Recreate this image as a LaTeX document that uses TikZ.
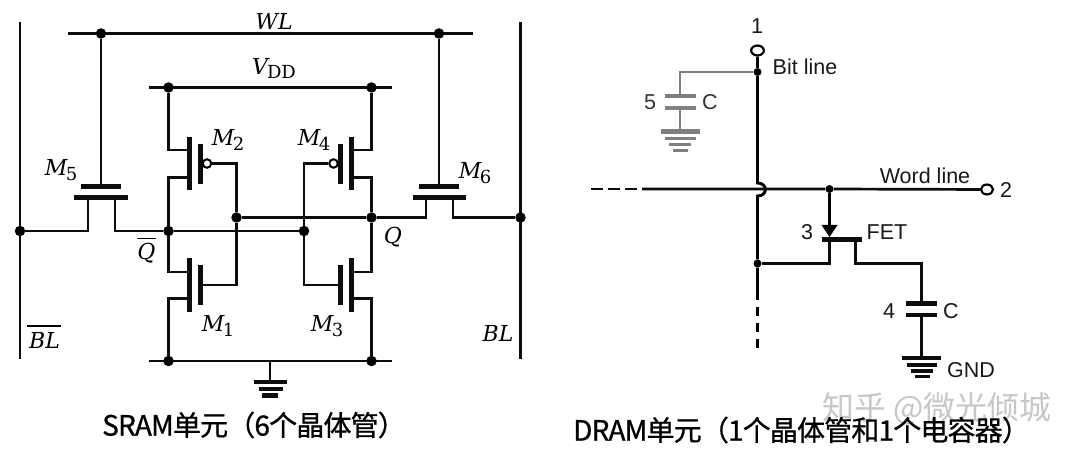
\documentclass[tikz,border=0pt]{standalone}
\usepackage{fontspec}
\usetikzlibrary{shapes.geometric}
\setmainfont{Liberation Sans}
\newfontfamily\serifit[ItalicFont=DejaVu Serif Italic]{DejaVu Serif}
\newfontfamily\cjk{Noto Sans CJK SC}
\newcommand{\lab}[1]{{\serifit\itshape #1}}
\newcommand{\rmsub}[1]{\kern-1pt\raisebox{-4pt}{\fontsize{18}{18}\selectfont\serifit #1}}
\newcommand{\itsub}[1]{\kern-1.5pt\raisebox{-5pt}{\fontsize{18}{18}\selectfont\serifit #1}}
\begin{document}
\begin{tikzpicture}[x=1pt,y=-1pt,
  wire/.style={line width=2.7pt,black!95},
  plate/.style={line width=5.4pt,black!95},
  thinplate/.style={line width=4.2pt,black!95},
  dot/.style={circle,fill=black,inner sep=0pt,minimum size=10.5pt},
  smalldot/.style={circle,fill=black,inner sep=0pt,minimum size=8pt},
  bub/.style={circle,draw=black,line width=2pt,fill=white,inner sep=0pt,minimum size=8.5pt},
  mlab/.style={font=\fontsize{22}{22}\selectfont,inner sep=0pt},
  sans/.style={font=\fontsize{21.5}{21.5}\selectfont,inner sep=0pt,text=black!90},
  grayw/.style={line width=2.6pt,black!50},
  grayp/.style={line width=4.5pt,black!50},
  captxt/.style={font=\cjk\fontsize{28}{28}\selectfont,inner sep=0pt}]
\useasboundingbox (0,0) rectangle (1080,454);
\fill[white] (0,0) rectangle (1080,454);
%% SRAM rails
\coordinate (bla) at (20,22); \coordinate (blb) at (20,359);
\coordinate (bra) at (520.5,22); \coordinate (brb) at (520.5,359);
\coordinate (wla) at (68,33.5); \coordinate (wlb) at (473,33.5);
\coordinate (vda) at (149,87.5); \coordinate (vdb) at (392,87.5);
\coordinate (gna) at (149,361); \coordinate (gnb) at (392,361);
\draw[wire] (bla)--(blb); \draw[wire] (bra)--(brb);
\draw[wire] (wla)--(wlb); \draw[wire] (vda)--(vdb); \draw[wire] (gna)--(gnb);
%% junctions
\node[dot] (jw1) at (101,33.5) {};
\node[dot] (jw2) at (439,33.5) {};
\node[dot] (jv1) at (168.5,87.5) {};
\node[dot] (jv2) at (371.5,87.5) {};
\node[dot] (jg1) at (168.5,361) {};
\node[dot] (jg2) at (371.5,361) {};
\node[dot] (jbl) at (20,231) {};
\node[dot] (jbr) at (520.5,217.5) {};
\node[dot] (jqb) at (168.5,231) {};
\node[dot] (jqc) at (304,231) {};
\node[dot] (jq) at (371.5,217.5) {};
\node[dot] (jqd) at (236.5,217.5) {};
%% access transistors
\coordinate (g5) at (101,186); \coordinate (g6) at (439,186);
\draw[wire] (jw1)--(g5); \draw[wire] (jw2)--(g6);
\draw[plate] (81,186.5)--(121,186.5); \draw[plate] (74,197.5)--(128,197.5);
\draw[plate] (419,186.5)--(459,186.5); \draw[plate] (413,197.5)--(466,197.5);
\draw[wire] (jbl) -| (88,197.5);
\draw[wire] (115,197.5) |- (jqb);
\draw[wire] (jqb)--(jqc);
\draw[wire] (jqd)--(jq);
\draw[wire] (jq) -| (426,197.5);
\draw[wire] (453,197.5) |- (jbr);
%% verticals
\draw[wire] (jv1) -- (168.5,150) -- (189.5,150);
\draw[wire] (189.5,177.5) -- (168.5,177.5) -- (jqb);
\draw[wire] (jqb) -- (168.5,272) -- (189.5,272);
\draw[wire] (189.5,298.5) -- (168.5,298.5) -- (jg1);
\draw[wire] (jv2) -- (371.5,150) -- (351.5,150);
\draw[wire] (351.5,177.5) -- (371.5,177.5) -- (jq);
\draw[wire] (jq) -- (371.5,272) -- (351.5,272);
\draw[wire] (351.5,298.5) -- (371.5,298.5) -- (jg2);
%% channels and gates
\draw[plate] (189.5,137)--(189.5,190); \draw[plate] (200.5,144)--(200.5,184);
\draw[plate] (189.5,258.5)--(189.5,312); \draw[plate] (200.5,265)--(200.5,305);
\draw[plate] (351.5,137)--(351.5,190); \draw[plate] (340.5,144)--(340.5,184);
\draw[plate] (351.5,258.5)--(351.5,312); \draw[plate] (340.5,265)--(340.5,305);
\node[bub] (b2) at (207,163.5) {};
\node[bub] (b4) at (333.5,163.5) {};
\draw[wire] (b2) -- (236.5,163.5) -- (jqd) -- (236.5,285) -- (200.5,285);
\draw[wire] (b4) -- (304,163.5) -- (jqc) -- (304,285) -- (340.5,285);
%% ground
\coordinate (gs) at (270,382);
\draw[wire] (270,361)--(gs);
\draw[thinplate] (254,382)--(287,382);
\draw[thinplate] (259,389)--(283,389);
\draw[thinplate] (262,395.5)--(278,395.5);
%% SRAM labels
\node[mlab] (tWL) at (274,21) {\lab{WL}};
\node[mlab] (tVDD) at (274,68) {\lab{V}\rmsub{DD}};
\node[mlab] (tM5) at (61,170) {\lab{M}\itsub{5}};
\node[mlab] (tM2) at (228,140) {\lab{M}\itsub{2}};
\node[mlab] (tM4) at (314,140) {\lab{M}\itsub{4}};
\node[mlab] (tM6) at (475,173) {\lab{M}\itsub{6}};
\node[mlab] (tM1) at (218,326) {\lab{M}\itsub{1}};
\node[mlab] (tM3) at (327,326) {\lab{M}\itsub{3}};
\node[mlab] (tQb) at (146.5,253) {\lab{Q}};
\draw[line width=1.9pt] (137,238.5) -- (156,238.5);
\node[mlab] (tQ) at (393,237) {\lab{Q}};
\node[mlab] (tBLb) at (44.5,340) {\lab{BL}};
\draw[line width=1.9pt] (27,326) -- (61,326);
\node[mlab] (tBL) at (498,333) {\lab{BL}};
%% DRAM
\node[draw=black,line width=2.2pt,ellipse,inner sep=0pt] (c1) at (757.5,50.5) {\phantom{\rule{9pt}{7pt}}};
\node[smalldot] (j1) at (757.5,72) {};
\node[smalldot] (j2) at (829.5,189) {};
\node[smalldot] (j3) at (757.5,263.5) {};
\node[draw=black,line width=2.2pt,ellipse,inner sep=0pt] (c2) at (987,189.5) {\phantom{\rule{8.5pt}{7pt}}};
\coordinate (hopa) at (757.5,183); \coordinate (hopb) at (757.5,196);
\coordinate (ba) at (757.5,300); \coordinate (bc) at (757.5,307); \coordinate (bb) at (757.5,348);
\draw[line width=2.9pt] (c1)--(j1)--(hopa) .. controls (768,183) and (768,196) .. (hopb) -- (j3) -- (ba);
\draw[line width=2.9pt,dash pattern=on 9pt off 7pt] (bc)--(bb);
\coordinate (wa) at (591,189); \coordinate (wc) at (637,189); \coordinate (wd) at (642,189);
\draw[wire,dash pattern=on 12pt off 5pt] (wa)--(wc);
\draw[wire] (wd)--(j2)--(c2);
%% gray capacitor
\coordinate (gc1) at (680,96); \coordinate (gc2) at (680,108); \coordinate (gc3) at (680,132);
\draw[grayw] (j1) -| (gc1);
\draw[grayw] (gc2)--(gc3);
\draw[grayp] (665,96)--(696,96); \draw[grayp] (665,108)--(696,108);
\draw[grayp] (660.5,131.5)--(700,131.5);
\draw[grayp,line width=3.5pt] (665,138.5)--(696,138.5);
\draw[grayp,line width=3.5pt] (669,144.5)--(691,144.5);
\draw[grayp,line width=3.5pt] (673,150.5)--(688,150.5);
%% FET
\coordinate (f1) at (829.5,226);
\draw[line width=2.9pt] (j2)--(f1);
\fill[black] (821.5,225) -- (837.5,225) -- (829.5,237) -- cycle;
\draw[thinplate,line width=4.5pt] (822,239.5)--(862,239.5);
\draw[wire] (j3) -| (829.5,239.5);
\coordinate (cp1) at (921.5,303);
\coordinate (cp2) at (921.5,315);
\coordinate (cp3) at (921.5,357);
\draw[wire] (855.5,239.5) |- (921.5,263.5) -- (cp1);
\draw[wire] (cp2)--(cp3);
\draw[thinplate,line width=4.5pt] (906,303.5)--(937,303.5);
\draw[thinplate,line width=4.5pt] (906,315)--(937,315);
\draw[thinplate,line width=4.5pt] (902,358)--(941,358);
\draw[thinplate,line width=3.5pt] (907,365)--(937,365);
\draw[thinplate,line width=3.5pt] (911,371)--(933,371);
\draw[thinplate,line width=3.5pt] (915,376.5)--(930,376.5);
%% DRAM labels
\node[sans] (n1) at (757,26) {1};
\node[sans] (tbit) at (805,66.5) {Bit line};
\node[sans,text=black!80] (n5) at (650,102) {5};
\node[sans,text=black!80] (tc5) at (710,102) {C};
\node[sans] (tword) at (925,176) {Word line};
\node[sans] (n2) at (1006,190) {2};
\node[sans] (n3) at (807,232) {3};
\node[sans] (tfet) at (887,232) {FET};
\node[sans] (n4) at (889,311) {4};
\node[sans] (tc4) at (951,311) {C};
\node[sans] (tgnd) at (971,370) {GND};
%% captions
\node[anchor=west,font=\cjk\fontsize{32}{32}\selectfont,text=black!22,inner sep=0pt] (wm) at (822,409) {知乎 @微光倾城};
\node[captxt,anchor=west] (cs) at (102,425) {\addfontfeature{LetterSpace=-3,FakeBold=0.8}SRAM单元（6个晶体管）};
\node[captxt,anchor=west] (cd) at (573,430) {\addfontfeature{LetterSpace=-3,FakeBold=0.8}DRAM单元（1个晶体管和1个电容器）};
\end{tikzpicture}
\end{document}
